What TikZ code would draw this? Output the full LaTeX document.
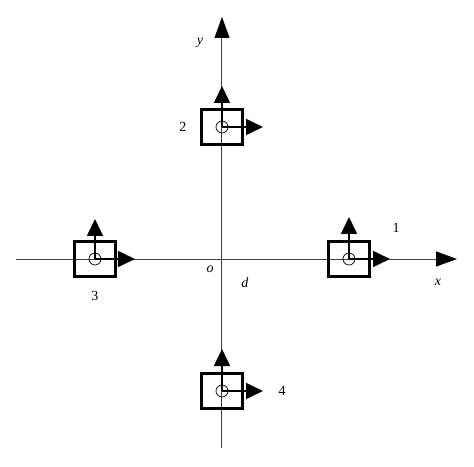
\documentclass[tikz,border=0pt]{standalone}
\usepackage{fontspec}
\setmainfont{Liberation Serif}
\usetikzlibrary{arrows.meta}

\begin{document}
\begin{tikzpicture}[x=1pt, y=1pt, font=\fontsize{14}{16}\selectfont,
    axis/.style={draw=black!75, line width=1pt, -{Triangle[length=21pt, width=15pt, color=black]}},
    robot/.style={draw, line width=2.2pt, minimum width=41pt, minimum height=35pt, inner sep=0pt},
    hub/.style={draw, circle, line width=0.7pt, minimum size=12pt, inner sep=0pt},
    heading/.style={line width=1.6pt, -{Triangle[length=17pt, width=16pt]}}]
\useasboundingbox (-222,-207) rectangle (252,259);
% axes
\coordinate (xlo) at (-206,0);
\coordinate (xhi) at (235,0);
\coordinate (ylo) at (0,-189);
\coordinate (yhi) at (0,242);
\draw[axis] (xlo) -- (xhi);
\draw[axis] (ylo) -- (yhi);
\node (xlab) at (216,-23) {\itshape x};
\node (ylab) at (-22,216) {\itshape y};
\node (olab) at (-12,-10) {\itshape o};
\node (dlab) at (23,-24) {\itshape d};
% robots
\node[robot] (r1) at (127,0) {};
\node[robot] (r2) at (0,132) {};
\node[robot] (r3) at (-127,0) {};
\node[robot] (r4) at (0,-132) {};
\node[hub] (h1) at (r1) {};
\node[hub] (h2) at (r2) {};
\node[hub] (h3) at (r3) {};
\node[hub] (h4) at (r4) {};
\coordinate (r1e) at ([xshift=41pt]r1.center);
\coordinate (r1n) at ([yshift=42pt]r1.center);
\coordinate (r2e) at ([xshift=41pt]r2.center);
\coordinate (r2n) at ([yshift=41pt]r2.center);
\coordinate (r3e) at ([xshift=40pt]r3.center);
\coordinate (r3n) at ([yshift=40pt]r3.center);
\coordinate (r4e) at ([xshift=41pt]r4.center);
\coordinate (r4n) at ([yshift=42pt]r4.center);
\draw[heading] (r1.center) -- (r1e);
\draw[heading] (r1.center) -- (r1n);
\draw[heading] (r2.center) -- (r2e);
\draw[heading] (r2.center) -- (r2n);
\draw[heading] (r3.center) -- (r3e);
\draw[heading] (r3.center) -- (r3n);
\draw[heading] (r4.center) -- (r4e);
\draw[heading] (r4.center) -- (r4n);
\node (lab1) at (174,31) {1};
\node (lab2) at (-39,132) {2};
\node (lab3) at (-127,-37) {3};
\node (lab4) at (60,-132) {4};
\end{tikzpicture}
\end{document}
